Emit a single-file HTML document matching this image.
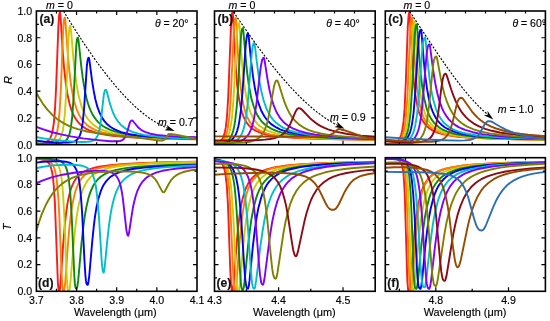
<!DOCTYPE html><html><head><meta charset="utf-8"><style>html,body{margin:0;padding:0;background:#fff;width:550px;height:321px;overflow:hidden}svg{display:block;will-change:transform}text{font-family:"Liberation Sans",sans-serif;stroke:#000;stroke-width:0.15px;paint-order:stroke}</style></head><body>
<svg width="550" height="321" viewBox="0 0 550 321">
<defs>
<clipPath id="c00"><rect x="36.4" y="11" width="160.6" height="133.7"/></clipPath>
<clipPath id="c01"><rect x="36.4" y="157.7" width="160.6" height="133.6"/></clipPath>
<clipPath id="c10"><rect x="214.5" y="11" width="160.7" height="133.7"/></clipPath>
<clipPath id="c11"><rect x="214.5" y="157.7" width="160.7" height="133.6"/></clipPath>
<clipPath id="c20"><rect x="385.3" y="11" width="160.1" height="133.7"/></clipPath>
<clipPath id="c21"><rect x="385.3" y="157.7" width="160.1" height="133.6"/></clipPath>
</defs>
<g clip-path="url(#c00)" fill="none" stroke-width="1.9" stroke-linejoin="round">
<path stroke="#ff1a1a" d="M34.4 144.3 39.4 144 42.9 143.4 45.6 142.6 47.6 141.4 49.4 139.6 50.6 137.4 51.6 134.8 52.6 130.8 53.9 122.4 55.1 107.3 56.1 87.4 58.4 26 59.1 15.3 59.6 12.8 60.1 12.3 60.6 17.4 62.6 49.8 63.9 66.1 65.7 82.7 67.4 94.3 69.7 104.4 71.2 109.3 72.7 113.2 74.4 116.8 76.2 119.6 78.2 122.3 80.7 124.8 83.2 126.9 86.2 128.8 89.4 130.4 92.9 131.7 96.9 132.9 101.4 134 112.4 135.7 126.4 137.1 144.4 138.1 167.9 138.8 198.9 139.3"/>
<path stroke="#ff8000" d="M34.4 144.5 40.6 144.2 45.1 143.8 48.4 143.2 50.9 142.3 52.9 140.9 54.4 139.1 55.6 136.7 56.9 132.8 57.6 129.3 58.4 124.3 59.6 111.2 60.9 88.4 63.1 30.8 63.9 20.7 64.4 18.2 64.9 17.7 65.4 21.3 67.7 52.7 69.2 69.6 70.9 84.1 72.7 94.5 73.9 100.2 75.2 104.8 76.7 109.3 78.2 112.9 79.9 116.3 81.7 119.1 83.9 121.9 86.2 124.2 88.7 126.2 91.7 128.1 94.9 129.8 98.4 131.2 102.4 132.4 106.9 133.5 117.4 135.3 130.9 136.7 148.2 137.7 170.2 138.5 198.9 139.1"/>
<path stroke="#cccc00" d="M34.4 144.5 48.1 144.1 52.1 143.5 55.1 142.7 57.4 141.6 59.1 139.9 60.6 137.5 61.9 134.2 62.9 130 63.6 125.5 64.9 113.4 66.2 92.8 68.7 35.6 69.4 27.7 69.9 26 70.4 25.7 71.2 32.3 73.4 58.8 74.9 73 76.7 85.6 78.7 96.1 81.2 105.3 82.7 109.4 84.2 112.8 85.9 116 87.9 119 90.2 121.7 92.4 123.9 94.9 125.9 97.9 127.8 100.9 129.3 104.4 130.7 108.4 132 112.7 133.1 122.9 134.9 135.7 136.3 151.9 137.4 172.4 138.3 198.9 138.9"/>
<path stroke="#0a8a0a" d="M34.4 143.1 42.9 143.6 50.6 143.7 56.4 143.5 60.4 143 63.1 142.2 65.4 140.8 67.2 139 68.7 136.1 69.7 133.2 70.7 128.7 72.2 117.1 73.7 95.8 76.2 46.7 76.9 39.7 77.4 38.1 77.9 37.7 78.2 38.3 78.7 42 81.2 65.8 82.7 77.7 84.7 89.9 86.7 98.9 87.9 103.3 89.4 107.7 90.9 111.2 92.4 114.2 94.2 117.1 96.2 119.8 98.2 122.1 100.4 124.1 102.9 126 105.7 127.7 108.7 129.2 112.2 130.6 119.9 132.8 129.7 134.7 141.7 136.1 156.7 137.2 175.4 138 198.9 138.7"/>
<path stroke="#0000ff" d="M34.4 140.4 43.4 141.5 52.6 142.2 61.4 142.6 67.9 142.6 71.9 142.1 74.7 141.3 76.9 139.9 78.7 137.8 79.9 135.3 80.9 132.2 81.9 127.6 82.7 122.7 84.2 107.1 86.9 65.4 87.7 59.7 88.2 58.1 88.7 57.8 88.9 57.8 89.4 60.2 91.9 79.6 93.7 90.9 95.4 99.5 97.4 106.9 99.9 113.5 102.7 118.6 104.4 121.1 106.2 123.2 108.2 125.1 110.2 126.7 112.7 128.3 115.2 129.7 121.2 132.1 128.4 134 137.2 135.5 147.9 136.6 161.4 137.6 178.2 138.3 198.9 138.9"/>
<path stroke="#00bfc8" d="M34.4 136.8 43.6 138.4 53.6 139.8 64.4 140.9 75.2 141.7 82.7 142 87.9 141.8 91.7 141.2 94.2 140.1 95.9 138.5 97.2 136.6 98.2 134.3 99.2 130.8 100.2 125.7 100.9 120.5 103.9 94.2 104.7 90.9 105.2 90 105.7 89.8 106.2 90 106.7 91.3 109.9 103.4 111.7 109 113.4 113.5 115.4 117.6 117.9 121.4 120.9 124.9 124.2 127.6 127.9 129.9 132.4 131.9 137.7 133.5 143.9 134.9 151.4 136 160.2 137 170.9 137.7 198.9 138.8"/>
<path stroke="#8000ff" d="M34.4 126.1 42.6 129.2 51.4 132 60.9 134.4 70.9 136.4 82.9 138.4 95.9 139.9 109.7 141.2 117.4 141.3 119.9 141 121.9 140.4 123.4 139.3 124.7 137.9 125.7 136.1 126.7 133.6 129.9 122.5 130.7 121.1 131.2 120.6 131.7 120.5 132.4 120.6 132.9 121 137.4 126.5 139.2 128.3 140.9 129.7 142.9 130.9 144.9 131.9 150.2 133.7 157.2 135 166.9 135.9 180.4 136.7 198.9 137.2"/>
<path stroke="#808000" d="M34.4 88.7 38.4 96.5 42.9 103.8 47.6 109.9 52.6 115.2 58.1 119.7 63.9 123.4 70.4 126.6 77.7 129.2 86.9 131.5 97.7 133.4 108.2 134.6 137.2 137.5 158.9 140.6 161.9 140.5 163.2 140.3 164.2 139.8 165.2 139 165.9 138.1 168.2 134.4 168.9 134 172.2 134.2 175.9 134.7 190.9 137.7 198.9 139"/>
</g>
<g clip-path="url(#c10)" fill="none" stroke-width="1.9" stroke-linejoin="round">
<path stroke="#ff1a1a" d="M212.5 143.9 215.5 143.4 218 142.6 220 141.5 221.5 140 222.8 138.2 224 135.2 225 131.5 225.8 127.4 227 116.5 228.2 97.2 231.2 21.1 232 13.6 232.2 12.8 232.8 12.3 235.8 68.1 237.2 85.8 238.8 97.6 240.8 107.9 242 112.5 243.5 116.6 245 119.8 246.8 122.8 248.8 125.3 250.8 127.3 253.2 129.2 256 130.9 259 132.2 262.5 133.5 266.5 134.5 271 135.5 282.2 136.9 296.8 138 316.2 138.8 342 139.4 377 139.8"/>
<path stroke="#ff8000" d="M212.5 143.9 216.2 143.4 219 142.6 221.2 141.6 223 140.2 224.5 138.2 225.8 135.7 226.8 132.8 227.8 128.4 229.2 117.7 230.5 102.1 234 27.8 234.8 20.1 235.2 18.1 235.8 17.7 236 18.5 236.2 22.2 238 54.9 239.2 73 240.8 88.2 242.2 98.7 243.2 104 244.5 109.1 245.8 113.2 247 116.4 248.5 119.5 250.2 122.4 252.2 124.9 254.5 127.1 257 129 259.8 130.6 263 132.1 266.5 133.3 270.5 134.4 275 135.3 286 136.8 300.2 137.9 319 138.7 343.8 139.3 377 139.7"/>
<path stroke="#cccc00" d="M212.5 144 216.8 143.6 220 142.9 222.8 141.9 224.8 140.6 226.5 138.7 228 136.1 229.2 132.8 230.2 128.9 231.2 123.2 232 117.3 233.2 103.2 234.2 86.7 236.2 45.2 237 33 237.5 27.7 238 24.6 238.5 23.3 239 23 239.5 26.9 241.5 56 243 73.5 244.8 88.1 246.5 98.3 248.8 107.4 250.2 111.8 251.8 115.3 253.5 118.5 255.2 121.2 257.2 123.6 259.5 125.7 262 127.6 265 129.4 268.2 130.9 271.8 132.2 275.8 133.3 280.2 134.4 291.2 136 305 137.2 323 138.2 346.2 138.9 377 139.4"/>
<path stroke="#0a8a0a" d="M212.5 144.1 217.8 143.7 221.5 143.1 224.5 142.3 227 141.1 229 139.4 230.8 137.1 232 134.5 233.2 130.8 234.2 126.4 235.2 120.4 236.8 106.3 238 88.2 240 51 241 36.4 241.5 32 242 29.5 242.5 28.5 243 28.4 243.5 32.3 245.8 58.6 247.2 73.1 249 86 251.2 97.8 253.8 106.7 255.2 110.7 257 114.4 258.8 117.5 260.8 120.3 263 122.8 265.2 124.8 267.8 126.7 270.8 128.4 274 130 277.8 131.4 281.8 132.6 286.2 133.6 297 135.4 310.5 136.7 327.5 137.7 349.2 138.5 377 139.1"/>
<path stroke="#0000ff" d="M212.5 144.1 218.8 143.7 223.5 143.1 227.2 142.1 230 140.9 232.2 139.3 234.2 137.1 235.8 134.5 237.2 130.6 238.2 127 239.2 122.1 240.8 111.5 242.5 92 245.8 44.2 246.8 36.3 247.2 34.5 247.5 34.1 248 33.7 248.2 33.9 248.8 37.3 251.2 62 253 76.4 255 88.8 257 97.9 258.2 102.4 259.8 106.8 261.2 110.5 262.8 113.5 264.5 116.5 266.5 119.2 268.8 121.8 271.2 124.1 273.8 125.9 276.8 127.7 280 129.3 283.5 130.6 287.5 131.9 291.8 132.9 302.2 134.8 315 136.2 331 137.3 351.2 138.1 377 138.8"/>
<path stroke="#00bfc8" d="M212.5 144.2 220 143.9 225.8 143.4 230 142.7 233.5 141.7 236.5 140.2 238.8 138.4 240.8 135.8 242.2 132.8 243.5 129.3 244.5 125.6 245.5 120.7 246.5 114.2 248.2 98 251 62 252 51.2 253 44.9 253.5 43.6 253.8 43.3 254.2 43.1 255 47 257.8 69.6 259.5 81.5 261.5 92.1 263.5 100 266.2 108 267.8 111.4 269.5 114.6 271.2 117.3 273.2 119.8 275.5 122.2 278 124.3 280.5 126.1 283.5 127.8 286.5 129.2 290 130.6 298 132.8 308 134.6 320 136 335 137.1 353.8 137.9 377 138.6"/>
<path stroke="#8000ff" d="M212.5 144.2 221.5 143.9 228.5 143.4 234 142.7 238.2 141.7 241.8 140.4 244.5 138.8 247 136.4 249 133.7 250.5 130.7 252 126.7 253.2 122.2 254.2 117.7 256.5 103.6 260 72.9 261 65.5 262.2 59.7 263 58.2 263.8 57.8 264 58 264.5 60.1 267.5 79.2 269.5 90 271.5 98.4 273.5 104.8 276.2 111.5 277.8 114.3 279.5 117.1 281.2 119.4 283.2 121.7 285.2 123.5 287.5 125.3 290 126.9 292.8 128.4 299 130.9 306.5 133 315.5 134.6 326.5 135.9 340 137 356.5 137.8 377 138.5"/>
<path stroke="#808000" d="M212.5 141.5 220.5 142.3 229 142.8 237.5 142.9 244.5 142.5 249.8 141.8 253.8 140.7 257.2 139.1 260 137.1 262 134.8 263.8 132 265.2 128.7 266.8 124.4 268 119.6 269.2 113.8 274 86.3 274.8 83.5 275.5 81.6 276.2 80.7 277 80.5 277.8 81.4 278.8 84 282.8 97 285 103.4 287 108.2 289.2 112.7 292.2 117.4 295.5 121.3 299.2 124.6 303.2 127.3 308.2 129.8 314 131.8 320.8 133.5 328.5 134.9 337.8 136 348.5 136.9 361.5 137.7 377 138.3"/>
<path stroke="#8b0a14" d="M212.5 140.4 241.2 140.5 258.8 140.1 265 139.6 270 139 274 138.3 277.5 137.2 280.2 136 282.8 134.3 284.8 132.6 286.8 130.2 288.5 127.5 290.2 124.1 295.8 111.2 297.2 109 298 108.4 298.8 108.2 300.2 108.4 301.8 109.5 310 118.2 312.8 120.6 315.5 122.8 318.2 124.6 321.2 126.3 324.5 127.9 328 129.3 332.2 130.7 336.8 131.9 347.5 134 360.8 135.6 377 136.8"/>
<path stroke="#964b00" d="M212.5 136.4 303.5 136.7 322 136.5 326.8 136 330.2 134.9 333 133.4 337.8 129.4 338.8 129 339.5 128.9 340.5 129.1 341.5 129.7 343.5 130 346.2 130.8 356.5 134.5 362.5 136.4 369.5 138.1 377 139.5"/>
</g>
<g clip-path="url(#c20)" fill="none" stroke-width="1.9" stroke-linejoin="round">
<path stroke="#ff1a1a" d="M383.3 144.3 388.3 144 392.1 143.5 394.8 142.7 396.8 141.7 398.6 140.1 400.1 137.7 401.1 135.1 402.1 131.3 402.8 127 403.6 120.9 404.6 108.4 405.8 82.5 407.8 26.5 408.6 15.4 409.1 12.8 409.6 12.3 412.6 66.9 414.1 84.6 415.6 96.5 417.6 107 418.8 111.6 420.1 115.2 421.6 118.7 423.3 121.8 425.3 124.5 427.3 126.6 429.6 128.5 432.3 130.3 435.3 131.7 438.8 133.1 442.6 134.1 447.1 135.1 457.8 136.7 471.8 137.8 490.1 138.6 514.5 139.3 547.3 139.7"/>
<path stroke="#ff8000" d="M383.3 144.3 388.8 144 392.8 143.4 395.8 142.6 398.1 141.5 400.1 139.8 401.6 137.6 402.8 134.6 403.8 131 404.8 125.7 405.6 120 407.1 101.7 408.1 82.3 409.8 39.8 410.6 26.3 411.3 19.4 411.8 17.9 412.3 17.7 414.3 54.1 415.6 72.8 417.1 88.5 418.6 99.2 420.6 108.7 421.8 112.9 423.1 116.3 424.6 119.5 426.3 122.4 428.3 125 430.3 127 432.6 128.8 435.3 130.5 438.3 131.9 441.8 133.2 445.6 134.3 450.1 135.2 460.6 136.7 474.3 137.8 492.1 138.6 515.8 139.2 547.3 139.7"/>
<path stroke="#cccc00" d="M383.3 144.4 389.3 144.1 393.6 143.6 396.8 142.9 399.3 141.8 401.3 140.4 403.1 138.3 404.3 135.8 405.6 132 406.6 127.4 407.3 122.6 408.6 110.5 409.8 91.2 412.6 33 413.1 26.8 413.6 23.3 414.1 21.9 414.6 21.7 415.1 27.2 416.8 56.7 418.1 73.3 419.6 87.7 421.1 97.9 422.1 103 423.3 108.1 424.6 112.2 425.8 115.5 427.3 118.6 429.1 121.5 431.1 124.1 433.3 126.4 435.6 128.2 438.3 129.9 441.3 131.4 444.8 132.7 448.6 133.8 453.1 134.8 463.6 136.4 476.8 137.5 494.3 138.4 517 139.1 547.3 139.5"/>
<path stroke="#0a8a0a" d="M383.3 144.4 390.1 144.1 394.8 143.6 398.3 142.9 401.1 141.8 403.1 140.4 404.8 138.4 406.3 135.6 407.6 131.9 408.6 127.5 409.3 122.9 410.6 111.6 412.1 89.3 414.8 34.8 415.3 29.2 415.8 26 416.3 24.6 416.8 24.4 417.3 28.2 419.3 57.3 420.8 74.7 422.3 87.4 424.1 97.9 426.3 107.3 427.6 111.1 429.1 114.8 430.8 118.2 432.6 120.9 434.6 123.4 436.8 125.6 439.3 127.6 442.1 129.3 445.1 130.7 448.6 132.1 452.6 133.3 456.8 134.3 467.1 135.9 480.3 137.2 497.1 138.1 518.8 138.8 547.3 139.3"/>
<path stroke="#0000ff" d="M383.3 144.3 390.3 144 395.6 143.6 399.6 142.8 402.6 141.8 405.1 140.3 407.1 138.2 408.6 135.8 410.1 132.1 411.1 128.5 412.1 123.6 413.6 112.6 415.3 91.8 417.6 54.1 418.6 40.1 419.6 32.2 420.3 30.1 421.1 29.7 421.6 33.4 423.8 61.3 425.3 76.2 427.1 89.2 428.8 98.5 430.1 103.6 431.3 107.8 432.6 111.3 434.1 114.7 435.8 117.9 437.6 120.5 439.6 122.9 441.8 125 444.3 127 447.1 128.7 450.1 130.2 453.6 131.5 457.3 132.7 461.6 133.7 471.6 135.5 484.3 136.8 500.3 137.8 520.8 138.5 547.3 139.1"/>
<path stroke="#00bfc8" d="M383.3 144.4 391.3 144.1 397.1 143.7 401.3 143 404.8 142 407.6 140.7 409.8 138.7 411.6 136.3 413.1 133.2 414.3 129.4 415.3 125.2 417.1 114.2 418.8 96.4 422.3 48.6 422.8 44.2 423.6 39.9 424.3 38.1 425.1 37.7 425.3 38.1 425.8 42.1 428.1 65.9 429.6 78.9 431.3 90.5 433.3 100.1 435.8 108.5 437.3 112.3 438.8 115.4 440.6 118.3 442.3 120.8 444.3 123 446.6 125.1 449.1 127 451.8 128.6 454.8 130.1 458.1 131.3 461.8 132.5 466.1 133.5 475.8 135.2 488.1 136.6 503.3 137.6 522.5 138.4 547.3 139"/>
<path stroke="#8000ff" d="M383.3 144.5 392.8 144.2 399.3 143.8 404.1 143.3 407.8 142.4 410.8 141.2 413.1 139.6 415.1 137.4 416.8 134.2 418.1 131 419.1 127.4 420.1 122.6 421.1 116.3 422.8 100.4 426.6 54.2 427.1 50.3 427.8 46.5 428.6 44.8 429.3 44.4 429.6 44.5 430.1 47 433.1 69.8 435.1 82.5 437.1 92.4 439.1 99.9 441.8 107.6 443.3 110.9 445.1 114.1 446.8 116.7 448.8 119.3 451.1 121.6 453.3 123.6 455.8 125.4 458.6 127.1 461.6 128.5 465.1 129.9 472.8 132.2 482.3 134.1 493.8 135.6 508.1 136.7 525.5 137.6 547.3 138.4"/>
<path stroke="#808000" d="M383.3 144.5 402.1 144 407.8 143.5 412.1 142.8 415.6 141.7 418.3 140.3 420.6 138.2 422.3 135.8 423.6 133.3 424.8 129.9 426.1 125.2 427.1 120.2 429.1 105.7 432.1 74.8 433.3 64.1 433.8 61.1 434.6 58.2 435.3 56.8 436.3 56.5 436.8 57.5 437.3 59.7 440.6 77.4 442.6 86.9 444.8 95.5 447.1 102.2 450.1 109.1 453.3 114.5 455.3 117.2 457.3 119.4 459.6 121.5 461.8 123.3 464.6 125.1 467.3 126.7 473.6 129.4 481.1 131.6 489.8 133.4 500.3 134.8 513 136.1 528.5 137 547.3 137.8"/>
<path stroke="#8b0a14" d="M383.3 141.2 393.8 141.9 403.8 142.4 412.1 142.5 418.1 142.2 422.3 141.7 425.8 140.7 428.3 139.5 430.6 137.6 432.1 135.6 433.6 132.8 434.8 129.5 436.1 124.9 437.3 118.7 438.3 112.4 441.3 88.4 442.6 80 443.8 75.3 444.6 74.1 445.3 73.8 445.8 73.8 446.1 74.1 446.8 75.6 451.3 89.8 453.6 96.2 456.1 102.2 458.8 107.6 462.1 112.7 465.6 116.9 469.6 120.6 473.8 123.6 479.1 126.4 485.1 128.8 491.8 130.8 499.8 132.5 509.1 133.9 519.8 135.1 532.5 136.1 547.3 136.9"/>
<path stroke="#964b00" d="M383.3 139.7 406.6 141.3 417.3 141.7 426.1 141.8 431.8 141.7 436.3 141.2 439.8 140.5 442.8 139.3 445.1 137.7 446.8 135.9 448.3 133.7 449.8 130.7 451.3 126.6 452.6 122.3 456.1 107.1 457.3 102.5 458.1 100.5 459.1 98.7 459.8 98.1 460.8 97.8 462.1 98 463.3 99.2 471.8 111.3 474.6 114.5 477.6 117.6 480.6 120.2 483.8 122.5 487.3 124.6 491.3 126.6 496.1 128.5 501.1 130 506.8 131.5 513 132.7 520 133.8 528 134.7 547.3 136.3"/>
<path stroke="#2e6eb4" d="M383.3 137.1 412.8 138.9 443.3 140.2 459.8 140.6 464.8 140.4 468.6 140 471.1 139.5 473.3 138.8 475.3 137.7 477.1 136.4 478.6 134.8 480.1 132.7 484.3 125 485.6 123.1 487.1 121.6 487.8 121.2 488.8 121.1 490.8 121.4 492.3 122 501.1 127.2 506.3 129.8 510.8 131.7 515.8 133.4 522.3 135.2 529.5 136.7 537.8 138 547.3 139.1"/>
</g>
<g clip-path="url(#c01)" fill="none" stroke-width="1.9" stroke-linejoin="round">
<path stroke="#ff1a1a" d="M34.4 158.7 39.1 159.1 42.6 159.6 45.1 160.3 47.1 161.5 48.9 163.2 50.1 165.4 51.1 168.1 52.1 172.3 52.9 177.1 53.6 183.9 54.9 202.9 57.9 283.3 58.6 290.5 58.9 291.1 59.4 291.4 59.9 289.6 60.6 282.1 63.1 245.1 64.7 226.5 65.9 214.7 67.4 204.1 68.4 198.7 69.7 193.3 70.9 189 72.2 185.6 73.7 182.4 75.2 179.8 77.2 177.1 79.2 175 81.4 173.2 84.2 171.5 87.2 170.1 90.7 168.8 94.7 167.7 99.2 166.7 110.2 165.2 124.9 163.9 144.2 162.9 168.4 162.2 198.9 161.7"/>
<path stroke="#ff8000" d="M34.4 158.7 40.1 159.1 44.1 159.6 47.1 160.3 49.6 161.5 51.6 163.3 53.1 165.5 54.4 168.6 55.4 172.2 56.4 177.7 57.1 183.6 58.4 198.8 59.4 217.8 61.4 269.1 62.1 283.2 62.9 289.9 63.4 291.2 63.9 291.4 64.4 289.9 65.2 283.2 67.9 245 69.4 227.3 70.9 214 72.4 204.1 74.7 193.8 75.9 189.6 77.2 186.3 78.7 183 80.2 180.4 81.9 178 83.9 175.8 86.2 173.9 88.9 172.1 91.9 170.6 95.2 169.3 98.9 168.2 103.4 167.1 113.9 165.5 128.2 164.1 146.4 163.1 169.7 162.3 198.9 161.8"/>
<path stroke="#cccc00" d="M34.4 158.6 41.9 158.8 47.1 159.2 50.9 159.9 53.6 160.8 55.9 162.3 57.6 164.4 58.9 166.8 60.1 170.7 61.1 175.6 61.9 180.8 63.1 194.6 64.4 217.7 66.9 280.2 67.7 288.9 68.2 291 68.9 291.4 69.2 291 69.7 288.7 70.4 282.3 73.4 246.4 75.2 228.5 76.7 216.6 78.2 207.4 80.4 197.2 81.7 193 83.2 188.8 84.7 185.5 86.4 182.4 88.4 179.5 90.4 177.3 92.7 175.3 95.4 173.3 98.4 171.7 101.7 170.3 105.4 169 109.7 167.9 119.9 166 133.2 164.6 150.2 163.5 171.7 162.6 198.9 162"/>
<path stroke="#0a8a0a" d="M34.4 158.5 44.4 158.7 50.9 159 55.4 159.6 58.9 160.4 61.6 161.7 63.6 163.5 65.4 166.2 66.7 169.3 67.7 173.1 68.7 178.5 70.2 192.1 71.7 216.1 74.4 277.4 74.9 283.7 75.4 287.1 75.9 288.4 76.7 288.8 76.9 288.4 77.4 286.2 78.2 280.4 81.4 244.4 83.2 227.9 84.7 216.7 86.2 207.9 88.4 198.2 89.7 194.1 91.2 190.1 92.7 186.8 94.4 183.7 96.2 181.3 98.2 179 100.4 177 102.9 175.2 105.7 173.6 108.7 172.3 112.2 171 116.2 169.9 125.7 168.1 137.9 166.7 153.7 165.6 173.7 164.8 198.9 164.1"/>
<path stroke="#0000ff" d="M34.4 162.8 42.9 161.8 52.1 161.3 59.9 161.2 65.7 161.7 69.4 162.6 72.2 164.1 73.4 165.1 74.4 166.3 76.2 169.4 77.4 172.8 78.7 178.1 79.7 184.4 80.4 190.9 81.4 202.6 82.2 214.2 84.4 259.5 85.4 275.5 85.9 280.4 86.4 283.2 86.9 284.4 87.7 284.8 87.9 284.5 88.4 282.3 89.2 276.3 92.2 241.8 93.7 227.1 94.9 217.2 96.4 207.8 98.4 198.7 100.9 190.8 102.4 187.3 103.9 184.5 105.7 181.9 107.4 179.8 109.4 177.8 111.7 176.1 114.2 174.5 117.2 173.1 120.4 171.8 123.9 170.8 132.7 169 143.9 167.6 158.2 166.5 176.4 165.6 198.9 164.9"/>
<path stroke="#00bfc8" d="M34.4 168.5 43.1 166.7 53.1 165.4 64.7 164.7 74.7 164.8 80.7 165.5 83.2 166.1 85.2 166.8 87.2 167.8 88.7 168.9 89.9 170.1 91.2 171.7 92.9 175.2 94.4 179.7 95.7 185.5 96.9 194 98.7 213 101.9 264.2 102.7 270.5 103.2 272.3 103.7 272.6 104.2 270.8 104.9 265 107.4 239.4 108.9 226 110.4 215.3 111.9 207 113.9 198.7 116.4 191.3 119.2 185.7 120.9 183.1 122.7 180.9 124.7 178.9 126.7 177.2 129.2 175.5 131.7 174.2 134.7 172.9 137.9 171.7 145.4 169.8 154.7 168.3 166.4 167.1 180.9 166.2 198.9 165.5"/>
<path stroke="#8000ff" d="M34.4 184.1 42.9 180.4 52.4 177.2 62.6 174.7 74.2 172.7 87.7 171.3 94.2 170.9 99.7 170.9 104.2 171 107.7 171.5 110.7 172.2 112.9 173.2 115.4 175 117.4 177.6 119.2 181.2 120.7 186.1 121.9 192.2 122.9 198.8 126.4 230.1 127.2 234.1 127.7 235.4 128.2 235.7 128.7 234.3 129.2 231.6 132.9 207.7 134.2 201.8 135.7 196 137.4 190.8 139.7 186 141.9 182.4 144.7 179.3 147.9 176.6 151.9 174.3 156.7 172.4 162.4 170.8 169.2 169.6 177.4 168.5 187.2 167.7 198.9 167"/>
<path stroke="#808000" d="M34.4 238.1 37.9 225.5 41.6 214.6 45.6 205.4 47.9 201 50.1 197.3 52.4 193.9 54.9 190.7 57.4 188 60.1 185.4 62.9 183.1 65.9 181.1 69.2 179.3 72.7 177.6 78.4 175.6 84.7 174.1 91.9 172.9 100.4 172.1 111.7 171.5 124.2 171.4 134.4 171.8 141.9 172.6 145.7 173.3 148.7 174.3 151.2 175.6 153.4 177.3 155.2 179.2 156.9 181.6 161.9 190.9 162.9 192.1 163.7 192.4 164.2 192.2 164.9 191.2 168.7 184 170.9 180.4 173.4 177.6 176.4 175.2 180.4 173.1 185.2 171.5 191.2 170.2 198.9 169.2"/>
</g>
<g clip-path="url(#c11)" fill="none" stroke-width="1.9" stroke-linejoin="round">
<path stroke="#ff1a1a" d="M212.5 159.2 215.5 159.6 218 160.4 220 161.5 221.5 163 222.8 164.9 223.8 167.3 224.8 170.9 225.5 174.9 226.8 185.7 228 205.4 230.2 268 231 283.9 231.8 290.5 232 291.1 232.5 291.4 233 289.4 233.8 282.1 236.5 245.1 238 228.6 239.5 215.9 241.2 205 242.5 199.1 243.8 194.4 245 190.5 246.5 186.8 248 183.8 249.8 181 251.8 178.4 254 176.2 256.5 174.2 259.5 172.4 262.8 170.9 266.5 169.5 270.8 168.3 275.5 167.3 287 165.5 302.2 164.2 321.5 163.1 346 162.4 377 161.8"/>
<path stroke="#ff8000" d="M212.5 159.1 216 159.6 218.8 160.4 221 161.4 222.8 162.8 224.2 164.8 225.5 167.4 226.5 170.6 227.5 175.2 229 187.1 230.2 204.7 233.5 280.9 234.2 289.1 234.8 291 235.2 291.3 235.5 291.2 235.8 290.2 236.5 283.6 239.2 246 240.8 229 242.2 216 244 204.9 246.2 195 247.5 191 249 187.1 250.5 184 252.2 181.1 254.2 178.5 256.5 176.2 259 174.2 261.8 172.5 265 170.9 268.5 169.6 272.5 168.4 277.2 167.4 288.8 165.6 303.8 164.2 322.8 163.2 346.8 162.4 377 161.9"/>
<path stroke="#cccc00" d="M212.5 159.2 216.5 159.7 219.8 160.6 222.2 161.7 224.2 163.3 226 165.5 227.2 167.9 228.5 171.6 229.5 175.9 230.5 182 231.2 188.3 232.5 203.4 233.8 225.9 235.8 270.3 236.5 282.3 237.2 289 237.8 290.8 238 291.1 238.5 291.3 238.8 291.3 239.2 289.2 240 283.2 243.2 245.9 245 229.2 246.5 217.9 248.2 207.9 250.8 197.5 252.2 192.9 253.8 189.2 255.5 185.7 257.2 182.8 259.2 180.2 261.5 177.8 264 175.7 267 173.7 270.2 172.1 273.8 170.6 277.8 169.3 282.5 168.1 293.5 166.2 307.8 164.7 325.8 163.6 348.5 162.7 377 162.1"/>
<path stroke="#0a8a0a" d="M212.5 159.2 217.5 159.8 221.2 160.6 224.2 161.8 226.5 163.2 228.5 165.4 230.2 168.4 231.5 171.5 232.8 176.2 233.8 181.4 234.8 188.5 236.2 204.6 237.5 224.2 239.8 267.9 240.8 282.1 241.2 286.3 241.8 288.8 242.2 289.8 243 290.1 243.8 287.4 244.5 281.9 248 246.1 249.8 230.8 251.5 218.7 253.5 208.1 256 198.5 257.5 194.1 259 190.5 260.8 187 262.8 183.8 264.8 181.1 267 178.8 269.5 176.6 272.5 174.6 275.8 172.8 279.2 171.3 283.2 170 287.8 168.7 298.5 166.7 312 165.1 329 163.9 350.2 163 377 162.3"/>
<path stroke="#0000ff" d="M212.5 159.4 218 160 222.2 160.9 225.8 162.2 228.5 163.8 230.8 165.9 232.8 168.8 234.2 172 235.8 176.6 237 182 238 187.7 239 195.1 240 204.6 241.5 223.5 244 263.2 245.2 279 245.8 283.2 246.5 287.1 247 288.2 247.2 288.5 248 288.7 248.2 288.3 248.8 286.1 249.5 280.7 253 245.2 254.8 230.1 256.5 218.1 258.2 208.8 260.8 199 262.2 194.5 263.8 190.8 265.5 187.2 267.2 184.3 269.2 181.6 271.5 179.1 274 176.9 276.8 174.9 279.8 173.2 283.2 171.6 287.2 170.2 291.5 169 301.8 166.9 314.8 165.3 331 164 351.5 163.1 377 162.4"/>
<path stroke="#00bfc8" d="M212.5 160 219.5 160.6 224.8 161.4 229 162.5 232.5 164.2 235.2 166.2 237.5 168.8 239.5 172.3 241.2 176.9 242.5 181.5 243.5 186.2 245.5 199.8 247.5 221.2 250.5 265.5 251.5 277.9 252 282.4 252.8 286.7 253.2 288.1 253.5 288.4 254.2 288.8 254.8 288 255.2 286.2 256.2 280.2 260.2 247.5 262.5 231.5 264.2 221.3 266.2 212 269 202.2 270.5 198 272.2 193.9 274 190.4 276 187.2 278 184.4 280.2 181.9 282.8 179.5 285.5 177.4 288.5 175.5 292 173.7 295.8 172.1 300 170.7 304.5 169.5 309.8 168.3 321.8 166.4 336.5 165 354.8 163.8 377 162.9"/>
<path stroke="#8000ff" d="M212.5 161.2 221.2 161.8 227.8 162.5 233 163.5 237.2 165 240.8 167 243.5 169.4 246 172.8 248 176.9 249.5 181.2 250.8 185.9 252 192 253.2 200 255.5 220.3 259 264.2 260 274.7 261.2 282.6 262 284.3 262.8 284.8 263 284.7 263.5 283.5 264.5 278.5 270.2 234 272.2 221.9 274.5 211.3 277.2 201.5 280.2 193.9 282 190.4 283.8 187.5 285.8 184.6 288 182 290.5 179.6 293 177.6 296 175.7 299.2 174 302.8 172.4 306.8 171 315.8 168.7 326.8 166.8 340.2 165.2 356.8 164 377 163.1"/>
<path stroke="#808000" d="M212.5 164.2 221.2 163.7 230.2 163.8 238 164.4 244 165.6 248.5 167.1 252.2 169.4 254 170.9 255.5 172.5 258 176.2 259.8 179.9 261.5 185 263 190.8 264.5 198.5 266 208.4 267.2 218.8 271 257.7 272.2 268.7 273 273.5 273.8 276.7 274.5 278.2 275.5 278.8 276 278.5 276.5 277.2 277.5 272.7 283.5 232.7 285.5 222 287.8 212.4 290.2 204.2 293.2 196.7 296.5 190.8 298.5 188 300.5 185.6 302.8 183.3 305.2 181.2 308 179.2 310.8 177.6 313.8 176.2 317.2 174.8 325.2 172.3 334.8 170.4 346.2 168.8 360.2 167.5 377 166.5"/>
<path stroke="#8b0a14" d="M212.5 167.6 226 167.6 238 167.9 247.8 168.5 255.8 169.5 262 170.9 267 172.7 271.2 175.1 274.8 178.1 277.5 181.5 280 185.9 282.2 191.4 284.2 198 286 205.4 287.5 213.3 292 242.8 293.2 249.9 294.5 254.7 295 255.7 295.8 256.3 296.2 256.1 296.8 255.2 298 251.4 304.5 221.1 306.5 213.3 308.8 206 311.2 199.5 313.8 194.4 316.5 190 319.8 185.9 323.8 182.3 328.2 179.2 333.5 176.7 339.5 174.7 346.5 173 355 171.6 365 170.4 377 169.5"/>
<path stroke="#964b00" d="M212.5 174.8 227.8 173.9 243.5 173.3 259 172.9 272.5 172.8 282.5 173 290.5 173.5 297 174.3 302.2 175.5 305.8 176.7 309 178.3 312 180.5 314.5 182.9 317 186.2 319.2 189.9 325.5 203 327.5 206.5 328.8 208.1 330 209.2 331.2 209.7 332.8 209.8 334 209.7 335 209.2 336 208.4 337.2 206.9 339.2 203.5 344.2 192.8 346.8 188.2 349.8 183.9 351.5 181.9 353.2 180.3 355.2 178.8 357.5 177.5 359.8 176.4 362.5 175.5 368.8 174 377 172.9"/>
</g>
<g clip-path="url(#c21)" fill="none" stroke-width="1.9" stroke-linejoin="round">
<path stroke="#ff1a1a" d="M383.3 158.4 393.8 158.7 396.6 159.1 398.3 159.7 399.8 160.8 400.8 162.1 401.8 164.4 402.6 167.4 403.3 172.4 403.8 177.5 404.8 195.1 407.3 280.2 408.1 289.7 408.6 291.1 409.3 291.4 409.8 289.4 410.6 282.1 413.1 248.3 414.6 231 416.1 217.8 417.8 206.3 420.1 196.2 421.3 192 422.8 188 424.3 184.7 426.1 181.7 428.1 179 430.3 176.6 432.8 174.6 435.6 172.8 438.8 171.2 442.3 169.8 446.3 168.6 450.8 167.6 461.8 165.8 476.3 164.4 494.8 163.3 518 162.5 547.3 161.9"/>
<path stroke="#ff8000" d="M383.3 158.4 394.8 158.7 397.8 159.1 399.8 159.7 401.3 160.7 402.6 162.3 403.6 164.7 404.3 167.7 405.1 172.6 405.6 177.5 406.6 194.1 409.3 281.9 410.1 290 410.6 291.2 411.3 291.3 411.8 288.8 412.3 283.6 414.8 246.6 416.1 230.9 417.6 216.5 419.1 205.9 420.1 200.5 421.3 195.1 422.6 190.8 423.8 187.3 425.3 184 427.1 180.9 429.1 178.2 431.1 176.1 433.3 174.2 436.1 172.4 439.1 170.9 442.6 169.5 446.3 168.4 450.8 167.4 461.8 165.6 476.3 164.2 494.8 163.2 518 162.4 547.3 161.9"/>
<path stroke="#cccc00" d="M383.3 158.4 395.6 158.7 398.6 159.1 400.8 159.7 402.6 160.8 403.8 162.3 404.8 164.3 405.8 167.7 406.6 171.9 407.3 178.4 408.3 193.1 409.3 217.9 410.8 266.5 411.6 282.2 412.3 288.6 412.8 289.8 413.3 290 413.8 290 414.1 289.3 414.8 284.1 419.3 232.9 421.1 218.5 423.1 206.6 424.3 200.9 425.6 196.2 426.8 192.4 428.3 188.6 430.1 185 431.8 182.2 433.8 179.6 435.8 177.5 438.3 175.4 441.1 173.5 444.1 172 447.6 170.5 451.6 169.2 456.1 168.1 466.8 166.2 480.6 164.7 498.1 163.6 519.8 162.7 547.3 162.1"/>
<path stroke="#0a8a0a" d="M383.3 158.4 396.6 158.7 399.8 159 402.3 159.7 404.1 160.6 405.6 162.1 406.8 164.3 407.8 167.4 408.6 171 409.3 176.5 410.6 192.5 411.6 214.8 413.3 266.2 414.1 280.6 414.6 285.6 415.1 287.8 415.6 288.5 416.6 288.7 417.3 285.6 418.1 279.7 421.3 245.7 423.1 230.1 424.8 217.8 426.6 208.3 429.1 198.4 430.6 193.9 432.1 190.2 433.8 186.7 435.6 183.8 437.6 181.1 439.8 178.7 442.3 176.5 445.1 174.6 448.3 172.8 451.8 171.3 455.8 169.9 460.1 168.7 470.6 166.7 483.8 165.1 500.6 163.9 521.3 163 547.3 162.3"/>
<path stroke="#0000ff" d="M383.3 158.5 391.3 158.7 396.6 159 400.3 159.5 403.1 160.3 405.3 161.6 407.1 163.3 408.6 165.8 409.8 169.3 410.8 173.4 411.8 179.7 413.3 195.1 414.6 216.2 416.8 266 417.8 281 418.3 285.1 418.8 287.3 419.6 288.5 420.6 288.7 421.3 285.7 422.1 280 425.3 246.4 427.1 230.9 428.8 218.6 430.6 209 433.1 199 434.6 194.4 436.1 190.7 437.8 187.1 439.6 184.2 441.6 181.5 443.8 179 446.3 176.8 449.1 174.8 452.1 173.1 455.6 171.5 459.3 170.2 463.6 169 473.6 167 486.3 165.3 502.3 164.1 522.3 163.1 547.3 162.4"/>
<path stroke="#00bfc8" d="M383.3 158.6 391.3 158.9 396.8 159.3 401.1 160.1 404.3 161.1 406.8 162.6 408.8 164.5 410.6 167.3 412.1 171 413.3 175.6 414.3 180.8 415.3 187.9 416.3 197.5 417.8 217.9 420.6 266.1 421.6 278.5 422.1 282.5 422.8 285.9 423.6 287.1 424.6 287.4 424.8 287.2 425.3 285.7 426.3 279.4 430.1 245.2 432.1 229.6 433.8 218.6 435.6 209.9 438.3 199.6 439.8 195.4 441.3 191.8 443.1 188.3 444.8 185.4 446.8 182.7 449.1 180.2 451.6 177.9 454.3 175.9 457.3 174.1 460.6 172.5 464.3 171 468.6 169.7 478.3 167.6 490.6 165.8 505.6 164.5 524.3 163.4 547.3 162.7"/>
<path stroke="#8000ff" d="M383.3 158.8 392.1 159.1 398.3 159.6 403.1 160.4 406.8 161.6 409.8 163.3 412.1 165.5 414.1 168.5 415.8 172.6 417.1 176.8 418.3 182.7 419.6 190.9 420.6 199.8 422.1 217.7 425.1 265.2 426.3 280.1 426.8 283.9 427.6 287.2 428.3 288.5 429.3 288.8 430.1 286.7 431.1 280.6 434.8 248 436.8 232.7 438.6 221.7 440.6 211.8 443.3 201.5 446.3 193.5 448.1 189.9 449.8 186.9 451.8 184.1 454.1 181.4 456.6 179 459.1 177.1 462.1 175.1 465.3 173.4 468.8 172 472.8 170.6 477.3 169.3 482.3 168.2 493.8 166.4 508.1 164.9 525.5 163.8 547.3 162.9"/>
<path stroke="#808000" d="M383.3 162.7 391.6 162.4 398.8 162.5 404.6 163.1 409.3 164.3 412.8 165.8 415.8 168.1 418.3 171.1 420.3 174.9 421.8 179 423.3 184.7 424.6 191.1 425.6 197.7 426.8 208.2 427.8 218.6 431.1 260.9 432.3 274.6 433.1 280.3 433.8 283.9 434.6 285.5 435.8 286.2 436.3 285.6 436.8 284.1 437.8 279.3 444.1 235.9 446.3 223.5 448.6 213.7 451.3 204.3 454.6 196.2 456.3 192.7 458.1 189.8 460.1 186.9 462.3 184.1 464.8 181.6 467.6 179.3 470.3 177.4 473.6 175.5 477.1 173.8 480.8 172.3 485.1 171 489.6 169.8 500.3 167.6 513 166 528.5 164.7 547.3 163.6"/>
<path stroke="#8b0a14" d="M383.3 164 392.8 163.6 401.6 163.7 408.6 164.3 414.3 165.4 418.8 167 422.3 169.1 425.1 171.8 427.6 175.6 429.3 179.5 431.1 184.9 432.6 191.3 433.8 198.3 435.1 207.2 436.3 218.3 440.1 260.2 441.3 271.7 442.1 276.3 442.8 279.2 443.6 280.4 444.6 280.9 445.1 280.5 445.6 279.3 446.6 275.3 453.3 234 455.6 223 457.8 214.1 460.6 205.6 463.6 198.5 467.1 192.3 470.8 187.5 473.1 185.2 475.6 183 478.3 181 481.3 179.2 484.6 177.6 488.1 176.1 496.1 173.6 505.6 171.5 517 169.9 530.8 168.5 547.3 167.4"/>
<path stroke="#964b00" d="M383.3 167.8 394.6 167.3 405.3 167.3 414.3 167.7 421.6 168.7 427.1 170 431.6 171.9 433.6 173.2 435.3 174.6 438.3 177.8 440.6 181.4 442.6 185.9 444.3 191.1 446.1 198 447.6 205.7 449.1 215.2 453.3 249.5 454.6 258.3 455.3 262.3 456.1 265.1 456.8 266.7 457.3 267.1 457.8 267.3 458.3 267 459.1 265.7 460.6 260.9 467.6 227 469.8 217.9 472.3 209.4 475.1 202 477.8 196.2 480.8 191.2 484.3 186.7 488.6 182.7 493.6 179.2 499.3 176.3 506.1 174 513.8 172.1 523 170.5 534 169.3 547.3 168.3"/>
<path stroke="#2e6eb4" d="M383.3 171.9 417.6 172.2 428.1 172.5 436.1 173 442.6 173.7 447.6 174.6 451.8 175.9 455.3 177.6 458.1 179.5 460.3 181.7 462.3 184.3 464.3 187.7 466.3 192.2 468.3 197.8 474.1 218.7 476.3 225.4 477.6 227.9 478.8 229.5 480.3 230.3 482.1 230.5 482.8 230.2 483.6 229.4 485.6 226 493.6 206.2 495.8 201.3 497.8 197.5 500.1 193.8 502.3 190.6 504.8 187.6 507.3 185.1 510.6 182.5 514.3 180.1 518.3 178.1 522.8 176.4 527.8 174.9 533.5 173.6 540 172.6 547.3 171.7"/>
</g>
<rect x="36.4" y="11" width="160.6" height="133.7" fill="none" stroke="#000" stroke-width="1.6"/>
<path d="M36.4 131.33h2.5 M197 131.33h-2.5 M36.4 117.96h4 M197 117.96h-4 M36.4 104.59h2.5 M197 104.59h-2.5 M36.4 91.22h4 M197 91.22h-4 M36.4 77.85h2.5 M197 77.85h-2.5 M36.4 64.48h4 M197 64.48h-4 M36.4 51.11h2.5 M197 51.11h-2.5 M36.4 37.74h4 M197 37.74h-4 M36.4 24.37h2.5 M197 24.37h-2.5 M76.55 144.7v-4 M116.7 144.7v-4 M156.85 144.7v-4 M56.47 144.7v-2.5 M96.62 144.7v-2.5 M136.77 144.7v-2.5 M176.92 144.7v-2.5 M76.55 11v4 M116.7 11v4 M156.85 11v4 M56.47 11v2.5 M96.62 11v2.5 M136.77 11v2.5 M176.92 11v2.5" stroke="#000" stroke-width="1.2" fill="none"/>
<rect x="214.5" y="11" width="160.7" height="133.7" fill="none" stroke="#000" stroke-width="1.6"/>
<path d="M214.5 131.33h2.5 M375.2 131.33h-2.5 M214.5 117.96h4 M375.2 117.96h-4 M214.5 104.59h2.5 M375.2 104.59h-2.5 M214.5 91.22h4 M375.2 91.22h-4 M214.5 77.85h2.5 M375.2 77.85h-2.5 M214.5 64.48h4 M375.2 64.48h-4 M214.5 51.11h2.5 M375.2 51.11h-2.5 M214.5 37.74h4 M375.2 37.74h-4 M214.5 24.37h2.5 M375.2 24.37h-2.5 M278.6 144.7v-4 M343 144.7v-4 M246.4 144.7v-2.5 M310.8 144.7v-2.5 M234.5 11v2.5 M254.5 11v2.5 M274.5 11v2.5 M294.5 11v2.5 M314.5 11v2.5 M334.5 11v2.5 M354.5 11v2.5" stroke="#000" stroke-width="1.2" fill="none"/>
<rect x="385.3" y="11" width="160.1" height="133.7" fill="none" stroke="#000" stroke-width="1.6"/>
<path d="M385.3 131.33h2.5 M545.4 131.33h-2.5 M385.3 117.96h4 M545.4 117.96h-4 M385.3 104.59h2.5 M545.4 104.59h-2.5 M385.3 91.22h4 M545.4 91.22h-4 M385.3 77.85h2.5 M545.4 77.85h-2.5 M385.3 64.48h4 M545.4 64.48h-4 M385.3 51.11h2.5 M545.4 51.11h-2.5 M385.3 37.74h4 M545.4 37.74h-4 M385.3 24.37h2.5 M545.4 24.37h-2.5 M435.8 144.7v-4 M508.5 144.7v-4 M399.4 144.7v-2.5 M472.2 144.7v-2.5 M405.5 11v2.5 M425.5 11v2.5 M445.5 11v2.5 M465.5 11v2.5 M485.5 11v2.5 M505.5 11v2.5 M525.5 11v2.5" stroke="#000" stroke-width="1.2" fill="none"/>
<rect x="36.4" y="157.7" width="160.6" height="133.6" fill="none" stroke="#000" stroke-width="1.6"/>
<path d="M36.4 277.94h2.5 M197 277.94h-2.5 M36.4 264.58h4 M197 264.58h-4 M36.4 251.22h2.5 M197 251.22h-2.5 M36.4 237.86h4 M197 237.86h-4 M36.4 224.5h2.5 M197 224.5h-2.5 M36.4 211.14h4 M197 211.14h-4 M36.4 197.78h2.5 M197 197.78h-2.5 M36.4 184.42h4 M197 184.42h-4 M36.4 171.06h2.5 M197 171.06h-2.5 M76.55 291.3v-4 M116.7 291.3v-4 M156.85 291.3v-4 M56.47 291.3v-2.5 M96.62 291.3v-2.5 M136.77 291.3v-2.5 M176.92 291.3v-2.5 M76.55 157.7v4 M116.7 157.7v4 M156.85 157.7v4 M56.47 157.7v2.5 M96.62 157.7v2.5 M136.77 157.7v2.5 M176.92 157.7v2.5" stroke="#000" stroke-width="1.2" fill="none"/>
<rect x="214.5" y="157.7" width="160.7" height="133.6" fill="none" stroke="#000" stroke-width="1.6"/>
<path d="M214.5 277.94h2.5 M375.2 277.94h-2.5 M214.5 264.58h4 M375.2 264.58h-4 M214.5 251.22h2.5 M375.2 251.22h-2.5 M214.5 237.86h4 M375.2 237.86h-4 M214.5 224.5h2.5 M375.2 224.5h-2.5 M214.5 211.14h4 M375.2 211.14h-4 M214.5 197.78h2.5 M375.2 197.78h-2.5 M214.5 184.42h4 M375.2 184.42h-4 M214.5 171.06h2.5 M375.2 171.06h-2.5 M278.6 291.3v-4 M343 291.3v-4 M246.4 291.3v-2.5 M310.8 291.3v-2.5 M234.5 157.7v2.5 M254.5 157.7v2.5 M274.5 157.7v2.5 M294.5 157.7v2.5 M314.5 157.7v2.5 M334.5 157.7v2.5 M354.5 157.7v2.5" stroke="#000" stroke-width="1.2" fill="none"/>
<rect x="385.3" y="157.7" width="160.1" height="133.6" fill="none" stroke="#000" stroke-width="1.6"/>
<path d="M385.3 277.94h2.5 M545.4 277.94h-2.5 M385.3 264.58h4 M545.4 264.58h-4 M385.3 251.22h2.5 M545.4 251.22h-2.5 M385.3 237.86h4 M545.4 237.86h-4 M385.3 224.5h2.5 M545.4 224.5h-2.5 M385.3 211.14h4 M545.4 211.14h-4 M385.3 197.78h2.5 M545.4 197.78h-2.5 M385.3 184.42h4 M545.4 184.42h-4 M385.3 171.06h2.5 M545.4 171.06h-2.5 M435.8 291.3v-4 M508.5 291.3v-4 M399.4 291.3v-2.5 M472.2 291.3v-2.5 M405.5 157.7v2.5 M425.5 157.7v2.5 M445.5 157.7v2.5 M465.5 157.7v2.5 M485.5 157.7v2.5 M505.5 157.7v2.5 M525.5 157.7v2.5" stroke="#000" stroke-width="1.2" fill="none"/>
<text x="32.2" y="148.5" font-size="10.6" fill="#000" text-anchor="end">0.0</text>
<text x="32.2" y="121.76" font-size="10.6" fill="#000" text-anchor="end">0.2</text>
<text x="32.2" y="95.02" font-size="10.6" fill="#000" text-anchor="end">0.4</text>
<text x="32.2" y="68.28" font-size="10.6" fill="#000" text-anchor="end">0.6</text>
<text x="32.2" y="41.54" font-size="10.6" fill="#000" text-anchor="end">0.8</text>
<text x="32.2" y="14.8" font-size="10.6" fill="#000" text-anchor="end">1.0</text>
<text x="32.2" y="295.1" font-size="10.6" fill="#000" text-anchor="end">0.0</text>
<text x="32.2" y="268.38" font-size="10.6" fill="#000" text-anchor="end">0.2</text>
<text x="32.2" y="241.66" font-size="10.6" fill="#000" text-anchor="end">0.4</text>
<text x="32.2" y="214.94" font-size="10.6" fill="#000" text-anchor="end">0.6</text>
<text x="32.2" y="188.22" font-size="10.6" fill="#000" text-anchor="end">0.8</text>
<text x="32.2" y="161.5" font-size="10.6" fill="#000" text-anchor="end">1.0</text>
<text x="36.4" y="304.4" font-size="10.6" fill="#000" text-anchor="middle">3.7</text>
<text x="76.55" y="304.4" font-size="10.6" fill="#000" text-anchor="middle">3.8</text>
<text x="116.7" y="304.4" font-size="10.6" fill="#000" text-anchor="middle">3.9</text>
<text x="156.85" y="304.4" font-size="10.6" fill="#000" text-anchor="middle">4.0</text>
<text x="197" y="304.4" font-size="10.6" fill="#000" text-anchor="middle">4.1</text>
<text x="214.5" y="304.4" font-size="10.6" fill="#000" text-anchor="middle">4.3</text>
<text x="278.6" y="304.4" font-size="10.6" fill="#000" text-anchor="middle">4.4</text>
<text x="343" y="304.4" font-size="10.6" fill="#000" text-anchor="middle">4.5</text>
<text x="435.8" y="304.4" font-size="10.6" fill="#000" text-anchor="middle">4.8</text>
<text x="508.5" y="304.4" font-size="10.6" fill="#000" text-anchor="middle">4.9</text>
<text x="115.3" y="316" font-size="10.9" fill="#000" text-anchor="middle">Wavelength (&#956;m)</text>
<text x="294.3" y="316" font-size="10.9" fill="#000" text-anchor="middle">Wavelength (&#956;m)</text>
<text x="465" y="316" font-size="10.9" fill="#000" text-anchor="middle">Wavelength (&#956;m)</text>
<text transform="translate(11.6,80) rotate(-90)" font-size="11" font-style="italic" fill="#000" text-anchor="middle">R</text>
<text transform="translate(10.8,227) rotate(-90)" font-size="11" font-style="italic" fill="#000" text-anchor="middle">T</text>
<text x="39.5" y="22.7" font-size="12.2" font-weight="bold" fill="#111">(a)</text>
<text x="217.5" y="22.7" font-size="12.2" font-weight="bold" fill="#111">(b)</text>
<text x="388.2" y="22.7" font-size="12.2" font-weight="bold" fill="#111">(c)</text>
<text x="38" y="286.6" font-size="12.2" font-weight="bold" fill="#111">(d)</text>
<text x="216.5" y="286.6" font-size="12.2" font-weight="bold" fill="#111">(e)</text>
<text x="387.2" y="286.6" font-size="12.2" font-weight="bold" fill="#111">(f)</text>
<text x="188.5" y="27.2" font-size="10.5" fill="#000" text-anchor="end"><tspan font-style="italic">&#952;</tspan> = 20&#176;</text>
<text x="359.8" y="27.2" font-size="10.5" fill="#000" text-anchor="end"><tspan font-style="italic">&#952;</tspan> = 40&#176;</text>
<text x="546" y="27.2" font-size="10.5" fill="#000" text-anchor="end"><tspan font-style="italic">&#952;</tspan> = 60&#176;</text>
<text x="46" y="9" font-size="10.6" fill="#000"><tspan font-style="italic">m</tspan> = 0</text>
<text x="228.6" y="9" font-size="10.6" fill="#000"><tspan font-style="italic">m</tspan> = 0</text>
<text x="403.4" y="9" font-size="10.6" fill="#000"><tspan font-style="italic">m</tspan> = 0</text>
<text x="158" y="125.7" font-size="10.6" fill="#000"><tspan font-style="italic">m</tspan> = 0.7</text>
<text x="330" y="120.5" font-size="10.6" fill="#000"><tspan font-style="italic">m</tspan> = 0.9</text>
<text x="497.7" y="112.9" font-size="10.6" fill="#000"><tspan font-style="italic">m</tspan> = 1.0</text>
<path d="M63.6 11.2 65.1 13.7 66.7 16.3 68.2 18.8 69.8 21.3 71.3 23.8 72.9 26.2 74.4 28.7 76.0 31.1 77.5 33.5 79.1 35.9 80.6 38.3 82.2 40.7 83.7 43.0 85.3 45.3 86.8 47.6 88.4 49.9 89.9 52.1 91.5 54.4 93.0 56.6 94.6 58.8 96.1 60.9 97.7 63.1 99.2 65.2 100.8 67.3 102.3 69.3 103.9 71.4 105.4 73.4 107.0 75.4 108.5 77.4 110.1 79.3 111.6 81.2 113.2 83.1 114.7 84.9 116.3 86.8 117.8 88.6 119.4 90.3 120.9 92.1 122.5 93.8 124.0 95.4 125.6 97.1 127.1 98.7 128.7 100.3 130.2 101.8 131.8 103.3 133.3 104.8 134.9 106.3 136.4 107.7 138.0 109.1 139.5 110.4 141.1 111.7 142.6 113.0 144.2 114.2 145.7 115.4 147.3 116.6 148.8 117.7 150.4 118.8 151.9 119.8 153.5 120.8 155.0 121.8 156.6 122.7 158.1 123.6 159.7 124.5 161.2 125.3 162.8 126.0 164.3 126.8 165.9 127.4 167.4 128.1 169.0 128.7 170.5 129.2" fill="none" stroke="#000" stroke-width="1.15" stroke-dasharray="2 1.5"/>
<path d="M174.7 131.1 L164.3 130.3 L168.2 128.6 L166.4 124.7 Z" fill="#000"/>
<path d="M233.6 11.9 235.1 14.2 236.7 16.5 238.2 18.8 239.8 21.0 241.3 23.3 242.9 25.5 244.4 27.8 246.0 30.0 247.5 32.2 249.1 34.4 250.6 36.6 252.2 38.8 253.7 40.9 255.2 43.1 256.8 45.2 258.3 47.3 259.9 49.4 261.4 51.5 263.0 53.5 264.5 55.6 266.1 57.6 267.6 59.6 269.2 61.6 270.7 63.6 272.3 65.5 273.8 67.5 275.4 69.4 276.9 71.3 278.4 73.2 280.0 75.0 281.5 76.8 283.1 78.7 284.6 80.4 286.2 82.2 287.7 83.9 289.3 85.7 290.8 87.4 292.4 89.0 293.9 90.7 295.5 92.3 297.0 93.9 298.5 95.4 300.1 97.0 301.6 98.5 303.2 100.0 304.7 101.4 306.3 102.9 307.8 104.3 309.4 105.6 310.9 107.0 312.5 108.3 314.0 109.6 315.6 110.8 317.1 112.1 318.7 113.3 320.2 114.4 321.7 115.5 323.3 116.6 324.8 117.7 326.4 118.7 327.9 119.7 329.5 120.7 331.0 121.6 332.6 122.5 334.1 123.4 335.7 124.2 337.2 125.0 338.8 125.7 340.3 126.4" fill="none" stroke="#000" stroke-width="1.15" stroke-dasharray="2 1.5"/>
<path d="M344.5 128.8 L334.2 127.0 L338.2 125.7 L336.9 121.6 Z" fill="#000"/>
<path d="M409.7 11.6 410.9 13.3 412.0 15.0 413.2 16.8 414.3 18.5 415.5 20.2 416.6 22.0 417.8 23.7 418.9 25.5 420.1 27.2 421.2 28.9 422.4 30.7 423.5 32.4 424.7 34.2 425.8 35.9 427.0 37.7 428.1 39.4 429.3 41.1 430.4 42.9 431.6 44.6 432.7 46.3 433.9 48.0 435.0 49.8 436.2 51.5 437.3 53.2 438.5 54.9 439.6 56.5 440.8 58.2 441.9 59.9 443.1 61.6 444.2 63.2 445.4 64.9 446.5 66.5 447.7 68.1 448.8 69.7 450.0 71.3 451.1 72.9 452.3 74.5 453.4 76.1 454.6 77.6 455.7 79.2 456.9 80.7 458.0 82.2 459.2 83.7 460.3 85.2 461.5 86.6 462.6 88.1 463.8 89.5 464.9 90.9 466.1 92.3 467.2 93.7 468.4 95.0 469.5 96.4 470.7 97.7 471.8 99.0 473.0 100.2 474.1 101.5 475.3 102.7 476.4 103.9 477.6 105.1 478.7 106.3 479.9 107.4 481.0 108.5 482.2 109.6 483.3 110.7 484.5 111.7 485.6 112.7 486.8 113.7 487.9 114.7 489.1 115.6" fill="none" stroke="#000" stroke-width="1.15" stroke-dasharray="2 1.5"/>
<path d="M493.3 119.4 L483.7 115.3 L487.9 114.9 L487.5 110.7 Z" fill="#000"/>
</svg></body></html>
